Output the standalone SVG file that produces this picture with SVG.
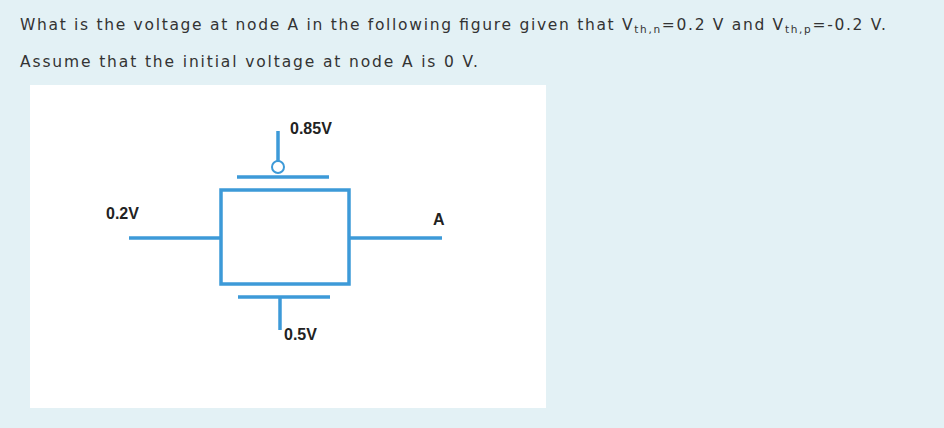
<svg xmlns="http://www.w3.org/2000/svg" width="944" height="428" viewBox="0 0 944 428">
<style>
.q{font-family:"DejaVu Sans","Liberation Sans",sans-serif;font-size:15.5px;fill:#333}
.l{font-family:"Liberation Sans",sans-serif;font-size:16px;font-weight:bold;fill:#222}
.w{stroke:#3d9ad8;stroke-width:3.5;fill:none}
</style>
<rect width="944" height="428" fill="#e3f1f5"/>
<text class="q" x="20" y="30" textLength="866" lengthAdjust="spacing">What is the voltage at node A in the following figure given that V<tspan font-size="10.5" dy="3">th,n</tspan><tspan dy="-3">=0.2 V and V</tspan><tspan font-size="10.5" dy="3">th,p</tspan><tspan dy="-3">=-0.2 V.</tspan></text>
<text class="q" x="20" y="67" textLength="458" lengthAdjust="spacing">Assume that the initial voltage at node A is  0 V.</text>
<rect x="30" y="85" width="516" height="323" fill="#fff"/>
<g id="transistor">
<rect class="w" x="221" y="190" width="128" height="94"/>
<line class="w" x1="237" y1="177" x2="329" y2="177"/>
<line class="w" x1="238" y1="297" x2="330" y2="297"/>
<circle cx="278" cy="167" r="6" fill="#fff" stroke="#3d9ad8" stroke-width="2"/>
</g>
<g id="connectors">
<line class="w" x1="278" y1="131" x2="278" y2="161"/>
<line class="w" x1="280" y1="297" x2="280" y2="330"/>
<line class="w" x1="129" y1="238" x2="221" y2="238"/>
<line class="w" x1="349" y1="238" x2="442" y2="238"/>
</g>
<g id="labels">
<text class="l" x="290" y="134">0.85V</text>
<text class="l" x="106" y="219">0.2V</text>
<text class="l" x="433" y="225">A</text>
<text class="l" x="284" y="340">0.5V</text>
</g>
</svg>
